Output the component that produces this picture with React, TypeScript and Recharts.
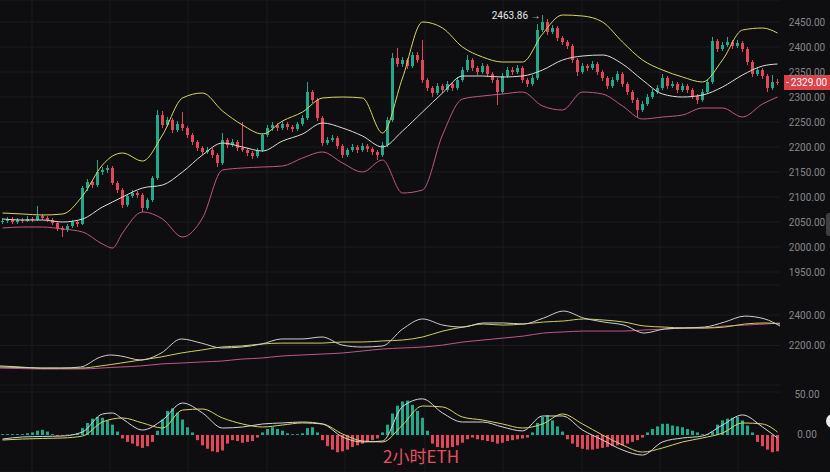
import { ComposedChart, Bar, Line, XAxis, YAxis, CartesianGrid, Cell, ReferenceLine, ReferenceDot } from 'recharts';

// 2h ETH candles, one per slot
const opens = [
  2050, 2052, 2056, 2050, 2054, 2052, 2056, 2054, 2062, 2058,
  2054, 2048, 2038, 2034, 2042, 2050, 2046, 2118, 2130, 2124,
  2150, 2154, 2158, 2128, 2114, 2084, 2102, 2108, 2104, 2078,
  2094, 2138, 2264, 2244, 2254, 2234, 2246, 2238, 2224, 2210,
  2198, 2190, 2194, 2184, 2168, 2214, 2204, 2210, 2198, 2194,
  2188, 2182, 2194, 2224, 2238, 2244, 2238, 2246, 2240, 2236,
  2246, 2258, 2310, 2294, 2258, 2208, 2214, 2218, 2202, 2184,
  2194, 2200, 2194, 2202, 2196, 2190, 2184, 2204, 2254, 2378,
  2366, 2374, 2362, 2384, 2374, 2334, 2318, 2308, 2322, 2314,
  2326, 2318, 2334, 2354, 2374, 2358, 2350, 2362, 2346, 2334,
  2310, 2342, 2354, 2350, 2358, 2334, 2326, 2338, 2434, 2450,
  2430, 2438, 2418, 2410, 2402, 2374, 2350, 2362, 2358, 2366,
  2350, 2338, 2322, 2334, 2346, 2326, 2310, 2294, 2274, 2286,
  2300, 2310, 2318, 2338, 2322, 2326, 2314, 2322, 2314, 2302,
  2294, 2310, 2330, 2412, 2396, 2404, 2410, 2402, 2408, 2396,
  2370, 2346, 2354, 2342, 2318, 2330,
];
const highs = [
  2058, 2060, 2060, 2058, 2058, 2062, 2060, 2082, 2066, 2062,
  2058, 2052, 2042, 2046, 2054, 2054, 2122, 2136, 2134, 2174,
  2160, 2164, 2162, 2132, 2118, 2106, 2114, 2112, 2108, 2098,
  2142, 2274, 2272, 2260, 2258, 2252, 2270, 2242, 2228, 2214,
  2202, 2200, 2198, 2188, 2228, 2218, 2216, 2214, 2250, 2198,
  2192, 2198, 2228, 2244, 2250, 2248, 2252, 2250, 2244, 2250,
  2264, 2330, 2314, 2298, 2262, 2220, 2224, 2222, 2206, 2198,
  2206, 2204, 2208, 2206, 2200, 2194, 2210, 2260, 2388, 2398,
  2380, 2378, 2390, 2390, 2414, 2338, 2322, 2328, 2326, 2332,
  2330, 2340, 2360, 2384, 2378, 2362, 2368, 2366, 2350, 2338,
  2348, 2360, 2360, 2364, 2362, 2338, 2344, 2446, 2463.86, 2456,
  2444, 2442, 2422, 2414, 2406, 2378, 2368, 2366, 2372, 2370,
  2354, 2342, 2340, 2352, 2350, 2330, 2314, 2298, 2292, 2306,
  2316, 2324, 2346, 2342, 2332, 2330, 2328, 2326, 2318, 2306,
  2316, 2336, 2420, 2416, 2410, 2420, 2414, 2414, 2412, 2400,
  2374, 2360, 2358, 2346, 2344, 2336,
];
const lows = [
  2046, 2048, 2046, 2046, 2048, 2050, 2050, 2052, 2054, 2050,
  2044, 2032, 2020, 2030, 2038, 2040, 2044, 2112, 2118, 2120,
  2144, 2148, 2124, 2108, 2078, 2080, 2098, 2098, 2070, 2074,
  2090, 2134, 2238, 2240, 2228, 2230, 2232, 2218, 2204, 2192,
  2184, 2186, 2178, 2160, 2164, 2198, 2200, 2192, 2190, 2182,
  2176, 2178, 2190, 2220, 2232, 2232, 2234, 2234, 2230, 2232,
  2242, 2254, 2288, 2252, 2202, 2204, 2210, 2196, 2178, 2180,
  2190, 2188, 2190, 2190, 2184, 2174, 2180, 2200, 2250, 2360,
  2360, 2356, 2358, 2368, 2328, 2312, 2300, 2304, 2308, 2310,
  2312, 2314, 2330, 2350, 2352, 2344, 2346, 2340, 2328, 2284,
  2306, 2338, 2344, 2346, 2328, 2320, 2322, 2334, 2430, 2424,
  2426, 2412, 2404, 2396, 2368, 2342, 2346, 2352, 2354, 2344,
  2332, 2316, 2318, 2330, 2320, 2304, 2288, 2260, 2270, 2282,
  2296, 2306, 2314, 2316, 2318, 2308, 2310, 2308, 2296, 2286,
  2290, 2306, 2326, 2390, 2392, 2400, 2396, 2398, 2390, 2364,
  2340, 2342, 2336, 2310, 2314, 2324,
];
const closes = [
  2052, 2056, 2050, 2054, 2052, 2056, 2054, 2062, 2058, 2054,
  2048, 2038, 2034, 2042, 2050, 2046, 2118, 2130, 2124, 2150,
  2154, 2158, 2128, 2114, 2084, 2102, 2108, 2104, 2078, 2094,
  2138, 2264, 2244, 2254, 2234, 2246, 2238, 2224, 2210, 2198,
  2190, 2194, 2184, 2168, 2214, 2204, 2210, 2198, 2194, 2188,
  2182, 2194, 2224, 2238, 2244, 2238, 2246, 2240, 2236, 2246,
  2258, 2310, 2294, 2258, 2208, 2214, 2218, 2202, 2184, 2194,
  2200, 2194, 2202, 2196, 2190, 2184, 2204, 2254, 2378, 2366,
  2374, 2362, 2384, 2374, 2334, 2318, 2308, 2322, 2314, 2326,
  2318, 2334, 2354, 2374, 2358, 2350, 2362, 2346, 2334, 2310,
  2342, 2354, 2350, 2358, 2334, 2326, 2338, 2434, 2450, 2430,
  2438, 2418, 2410, 2402, 2374, 2350, 2362, 2358, 2366, 2350,
  2338, 2322, 2334, 2346, 2326, 2310, 2294, 2274, 2286, 2300,
  2310, 2318, 2338, 2322, 2326, 2314, 2322, 2314, 2302, 2294,
  2310, 2330, 2412, 2396, 2404, 2410, 2402, 2408, 2396, 2370,
  2346, 2354, 2342, 2318, 2330, 2329,
];

// indicator lines are read every 4th candle (plus one extra at the first band low)
const lineIndex = [
  0, 4, 8, 12, 16, 20, 22, 24, 28, 32, 36, 40, 44, 48, 52, 56, 60, 64, 68, 72, 76,
  80, 84, 88, 92, 96, 100, 104, 108, 112, 116, 120, 124, 128, 132, 136, 140, 144, 148, 152, 155,
];
const bollUpper = [
  2068, 2066, 2064, 2066, 2102, 2164, 2182, 2188, 2172, 2224, 2298, 2308, 2272, 2244, 2226, 2252, 2270, 2298, 2300, 2298, 2228,
  2338, 2450, 2438, 2400, 2380, 2370, 2370, 2426, 2464, 2462, 2450, 2410, 2374, 2354, 2340, 2330, 2374, 2434, 2438, 2428,
];
const bollMid = [
  2056, 2054, 2054, 2050, 2056, 2080, 2090, 2100, 2118, 2124, 2150, 2184, 2208, 2200, 2192, 2212, 2226, 2248, 2238, 2222, 2200,
  2232, 2270, 2308, 2342, 2342, 2340, 2342, 2354, 2374, 2382, 2384, 2366, 2334, 2306, 2300, 2304, 2320, 2344, 2362, 2366,
];
const bollLower = [
  2038, 2040, 2040, 2036, 2030, 2006, 1998, 2028, 2070, 2056, 2020, 2058, 2154, 2158, 2160, 2162, 2178, 2190, 2168, 2150, 2174,
  2108, 2114, 2224, 2296, 2302, 2306, 2310, 2282, 2274, 2310, 2306, 2282, 2256, 2260, 2264, 2278, 2278, 2260, 2286, 2300,
];
const maFast = [
  2066, 2059, 2052, 2052, 2059, 2125, 2138, 2131, 2105, 2150, 2243, 2216, 2184, 2190, 2210, 2243, 2243, 2256, 2203, 2190, 2197,
  2308, 2374, 2334, 2321, 2348, 2348, 2341, 2380, 2426, 2380, 2354, 2334, 2282, 2308, 2315, 2321, 2354, 2393, 2374, 2328,
];
const maMid = [
  2059, 2056, 2052, 2052, 2052, 2066, 2075, 2085, 2105, 2125, 2151, 2170, 2190, 2197, 2210, 2216, 2216, 2216, 2223, 2223, 2230,
  2236, 2256, 2295, 2321, 2341, 2334, 2341, 2354, 2361, 2374, 2367, 2354, 2328, 2321, 2315, 2315, 2321, 2341, 2348, 2341,
];
const maSlow = [
  2052, 2049, 2046, 2046, 2046, 2052, 2056, 2059, 2066, 2079, 2085, 2092, 2098, 2111, 2118, 2131, 2138, 2144, 2151, 2164, 2177,
  2184, 2190, 2203, 2223, 2236, 2249, 2262, 2282, 2289, 2295, 2295, 2295, 2302, 2308, 2315, 2315, 2328, 2334, 2341, 2348,
];
const macdDif = [
  -4.7, -2.3, -1.7, -1.2, 3.5, 24.4, 25.6, 18.6, 5.8, 17.4, 37.2, 25.6, 8.1, 9.3, 12.8, 14, 15.1, 12.8, -2.3, -8.1, -7,
  33, 42, 25.6, 15.1, 15.1, 9.3, 4.7, 22.1, 22.1, 5.8, -5.8, -17.4, -23.3, -8.1, -3.5, -1.2, 11.6, 23.3, 9.3, -3.5,
];
const macdDea = [
  -5.8, -4.7, -4, -3.5, -1.2, 15.1, 18.6, 19.8, 14, 8.1, 29, 30.2, 19.8, 12.8, 9.3, 11.6, 14, 12.8, 1.2, -7, -8.1,
  11.6, 33.7, 32.6, 20.9, 17.4, 12.8, 8.1, 12.8, 24.4, 12.8, 0, -11.6, -19.8, -15.1, -8.1, -3.5, 2.3, 14, 12.8, 3.5,
];
const macdHist = [
  1, 1, 1, 1, 1, 2, 3, 5, 6, 4,
  1, -1, -1, 0.5, 1, 2, 8, 14, 19, 21,
  20, 17, 12, 4, -4, -8, -10, -13, -15, -13,
  -8, 5, 18, 28, 31, 26, 18, 9, 3, -6,
  -12, -16, -19, -20, -18, -10, -6, -7, -9, -8,
  -7, -3, 3, 7, 9, 7, 5, 2, 1, 1,
  2, 8, 9, 3, -6, -13, -17, -20, -19, -17,
  -14, -12, -10, -8, -6, -4, 3, 12, 25, 34,
  39, 40, 35, 28, 20, 5, -10, -14, -15, -15,
  -14, -12, -9, -5, -3, -5, -6, -7, -8, -10,
  -9, -7, -6, -5, -4, -3, 3, 14, 21, 23,
  17, 10, 4, -5, -10, -14, -16, -17, -17, -16,
  -15, -14, -13, -12, -12, -10, -8, -6, -3, 3,
  7, 10, 13, 13, 11, 10, 9, 7, 5, 3,
  1, 1, 4, 12, 17, 19, 20, 21, 17, 11,
  3, -8, -13, -17, -20, -19,
];

const priceTicks = [1950, 2000, 2050, 2100, 2150, 2200, 2250, 2300, 2350, 2400, 2450];
const maTicks = [2000, 2200, 2400];
const macdTicks = [0, 50];
const lastPrice = 2329;
const peakIndex = 108;
const title = '2小时ETH';

const GREEN = '#22a98b';
const RED = '#e0485a';
const BG = '#0e0e10';
const GRID = '#1b1b1f';
const vLines = [32, 110, 188, 267, 345, 425, 503, 582, 660, 738];

const rows = closes.map((c, i) => {
  const k = lineIndex.indexOf(i);
  const pick = (arr: number[]) => (k >= 0 ? arr[k] : null);
  return {
    i,
    o: opens[i],
    h: highs[i],
    l: lows[i],
    c,
    range: [lows[i], highs[i]],
    hist: macdHist[i],
    upper: pick(bollUpper),
    mid: pick(bollMid),
    lower: pick(bollLower),
    fast: pick(maFast),
    slow: pick(maSlow),
    medium: pick(maMid),
    dif: pick(macdDif),
    dea: pick(macdDea),
  };
});

const Candle = (props: any) => {
  const { x, y, width, height, payload } = props;
  const top = Math.min(y, y + height);
  const bottom = Math.max(y, y + height);
  const span = payload.h - payload.l || 1;
  const toY = (v: number) => top + ((payload.h - v) / span) * (bottom - top);
  const color = payload.c >= payload.o ? GREEN : RED;
  const cx = x + width / 2;
  const bTop = toY(Math.max(payload.o, payload.c));
  const bBot = toY(Math.min(payload.o, payload.c));
  return (
    <g>
      <line x1={cx} x2={cx} y1={top} y2={bottom} stroke={color} strokeWidth={1} />
      <rect x={cx - 1.5} y={bTop} width={3} height={Math.max(1, bBot - bTop)} fill={color} />
    </g>
  );
};

const AxisTick = (props: any) => {
  const { y, payload } = props;
  return (
    <text x={807} y={y} textAnchor="middle" dominantBaseline="central" fill="#86868b" fontSize={10} fontFamily="Roboto, Arial, sans-serif">
      {Number(payload.value).toFixed(2)}
    </text>
  );
};

const PriceTag = (props: any) => {
  const { viewBox } = props;
  const y = viewBox.y;
  return (
    <g>
      <rect x={784} y={y - 7.5} width={46} height={15} fill="#dc4049" />
      <line x1={786} x2={789} y1={y} y2={y} stroke="#ffd0d0" strokeWidth={1} />
      <text x={809} y={y} textAnchor="middle" dominantBaseline="central" fill="#fff" fontSize={10} fontFamily="Roboto, Arial, sans-serif">
        {lastPrice.toFixed(2)}
      </text>
    </g>
  );
};

const PeakLabel = (props: any) => {
  const { viewBox } = props;
  return (
    <text x={viewBox.x - 1} y={viewBox.y + 1} textAnchor="end" dominantBaseline="central" fill="#e8e8e8" fontSize={10} fontFamily="Roboto, Arial, sans-serif">
      {highs[peakIndex].toFixed(2)} →
    </text>
  );
};

const W = 830;
const M = { top: 0, right: 0, bottom: 0, left: 0 };

export default function App() {
  return (
    <div style={{ position: 'absolute', left: 0, top: 0, width: W, height: 472, background: BG, overflow: 'hidden' }}>
      {/* price panel with bollinger bands */}
      <div style={{ position: 'absolute', left: 0, top: 0 }}>
        <ComposedChart width={W} height={285} data={rows} margin={M} barCategoryGap={0} barGap={0}>
          <CartesianGrid stroke={GRID} verticalPoints={vLines} />
          <XAxis dataKey="i" hide />
          <YAxis orientation="right" width={50} domain={[1924, 2494]} ticks={priceTicks} axisLine={false} tickLine={false} tick={<AxisTick />} />
          <Bar dataKey="range" shape={<Candle />} isAnimationActive={false} />
          <Line dataKey="upper" type="monotone" stroke="#d6d667" strokeWidth={1} dot={false} activeDot={false} connectNulls isAnimationActive={false} />
          <Line dataKey="mid" type="monotone" stroke="#dcdcd4" strokeWidth={1} dot={false} activeDot={false} connectNulls isAnimationActive={false} />
          <Line dataKey="lower" type="monotone" stroke="#c25685" strokeWidth={1} dot={false} activeDot={false} connectNulls isAnimationActive={false} />
          <ReferenceLine y={lastPrice} stroke="transparent" label={<PriceTag />} />
          <ReferenceDot x={peakIndex} y={highs[peakIndex]} r={1} fill="transparent" stroke="none" label={<PeakLabel />} />
        </ComposedChart>
      </div>

      {/* moving averages panel */}
      <div style={{ position: 'absolute', left: 0, top: 285 }}>
        <ComposedChart width={W} height={100} data={rows} margin={M}>
          <CartesianGrid stroke={GRID} verticalPoints={vLines} />
          <XAxis dataKey="i" hide />
          <YAxis orientation="right" width={50} domain={[1941, 2597]} ticks={maTicks} axisLine={false} tickLine={false} tick={<AxisTick />} />
          <Line dataKey="slow" type="monotone" stroke="#c0578c" strokeWidth={1} dot={false} activeDot={false} connectNulls isAnimationActive={false} />
          <Line dataKey="medium" type="monotone" stroke="#cfcf63" strokeWidth={1} dot={false} activeDot={false} connectNulls isAnimationActive={false} />
          <Line dataKey="fast" type="monotone" stroke="#cfcfcf" strokeWidth={1} dot={false} activeDot={false} connectNulls isAnimationActive={false} />
        </ComposedChart>
      </div>

      {/* MACD panel */}
      <div style={{ position: 'absolute', left: 0, top: 385 }}>
        <ComposedChart width={W} height={87} data={rows} margin={M} barCategoryGap={0}>
          <CartesianGrid stroke={GRID} verticalPoints={vLines} />
          <XAxis dataKey="i" hide />
          <YAxis orientation="right" width={50} domain={[-43, 58.1]} ticks={macdTicks} axisLine={false} tickLine={false} tick={<AxisTick />} />
          <Bar dataKey="hist" barSize={3} isAnimationActive={false}>
            {rows.map((r) => (
              <Cell key={r.i} fill={r.hist >= 0 ? GREEN : RED} />
            ))}
          </Bar>
          <Line dataKey="dea" type="monotone" stroke="#d8d36c" strokeWidth={1} dot={false} activeDot={false} connectNulls isAnimationActive={false} />
          <Line dataKey="dif" type="monotone" stroke="#d6d6d6" strokeWidth={1} dot={false} activeDot={false} connectNulls isAnimationActive={false} />
        </ComposedChart>
      </div>

      <div style={{ position: 'absolute', left: 383, top: 445, fontSize: 17, color: '#e2515f', fontFamily: '"Noto Sans CJK SC", sans-serif', lineHeight: '22px', whiteSpace: 'nowrap' }}>
        {title}
      </div>
      <div style={{ position: 'absolute', left: 826, top: 213, width: 10, height: 23, borderRadius: 3, background: 'rgba(190,190,200,0.28)' }} />
      <div style={{ position: 'absolute', left: 826, top: 414, width: 14, height: 14, borderRadius: 7, background: '#ececec' }} />
    </div>
  );
}
